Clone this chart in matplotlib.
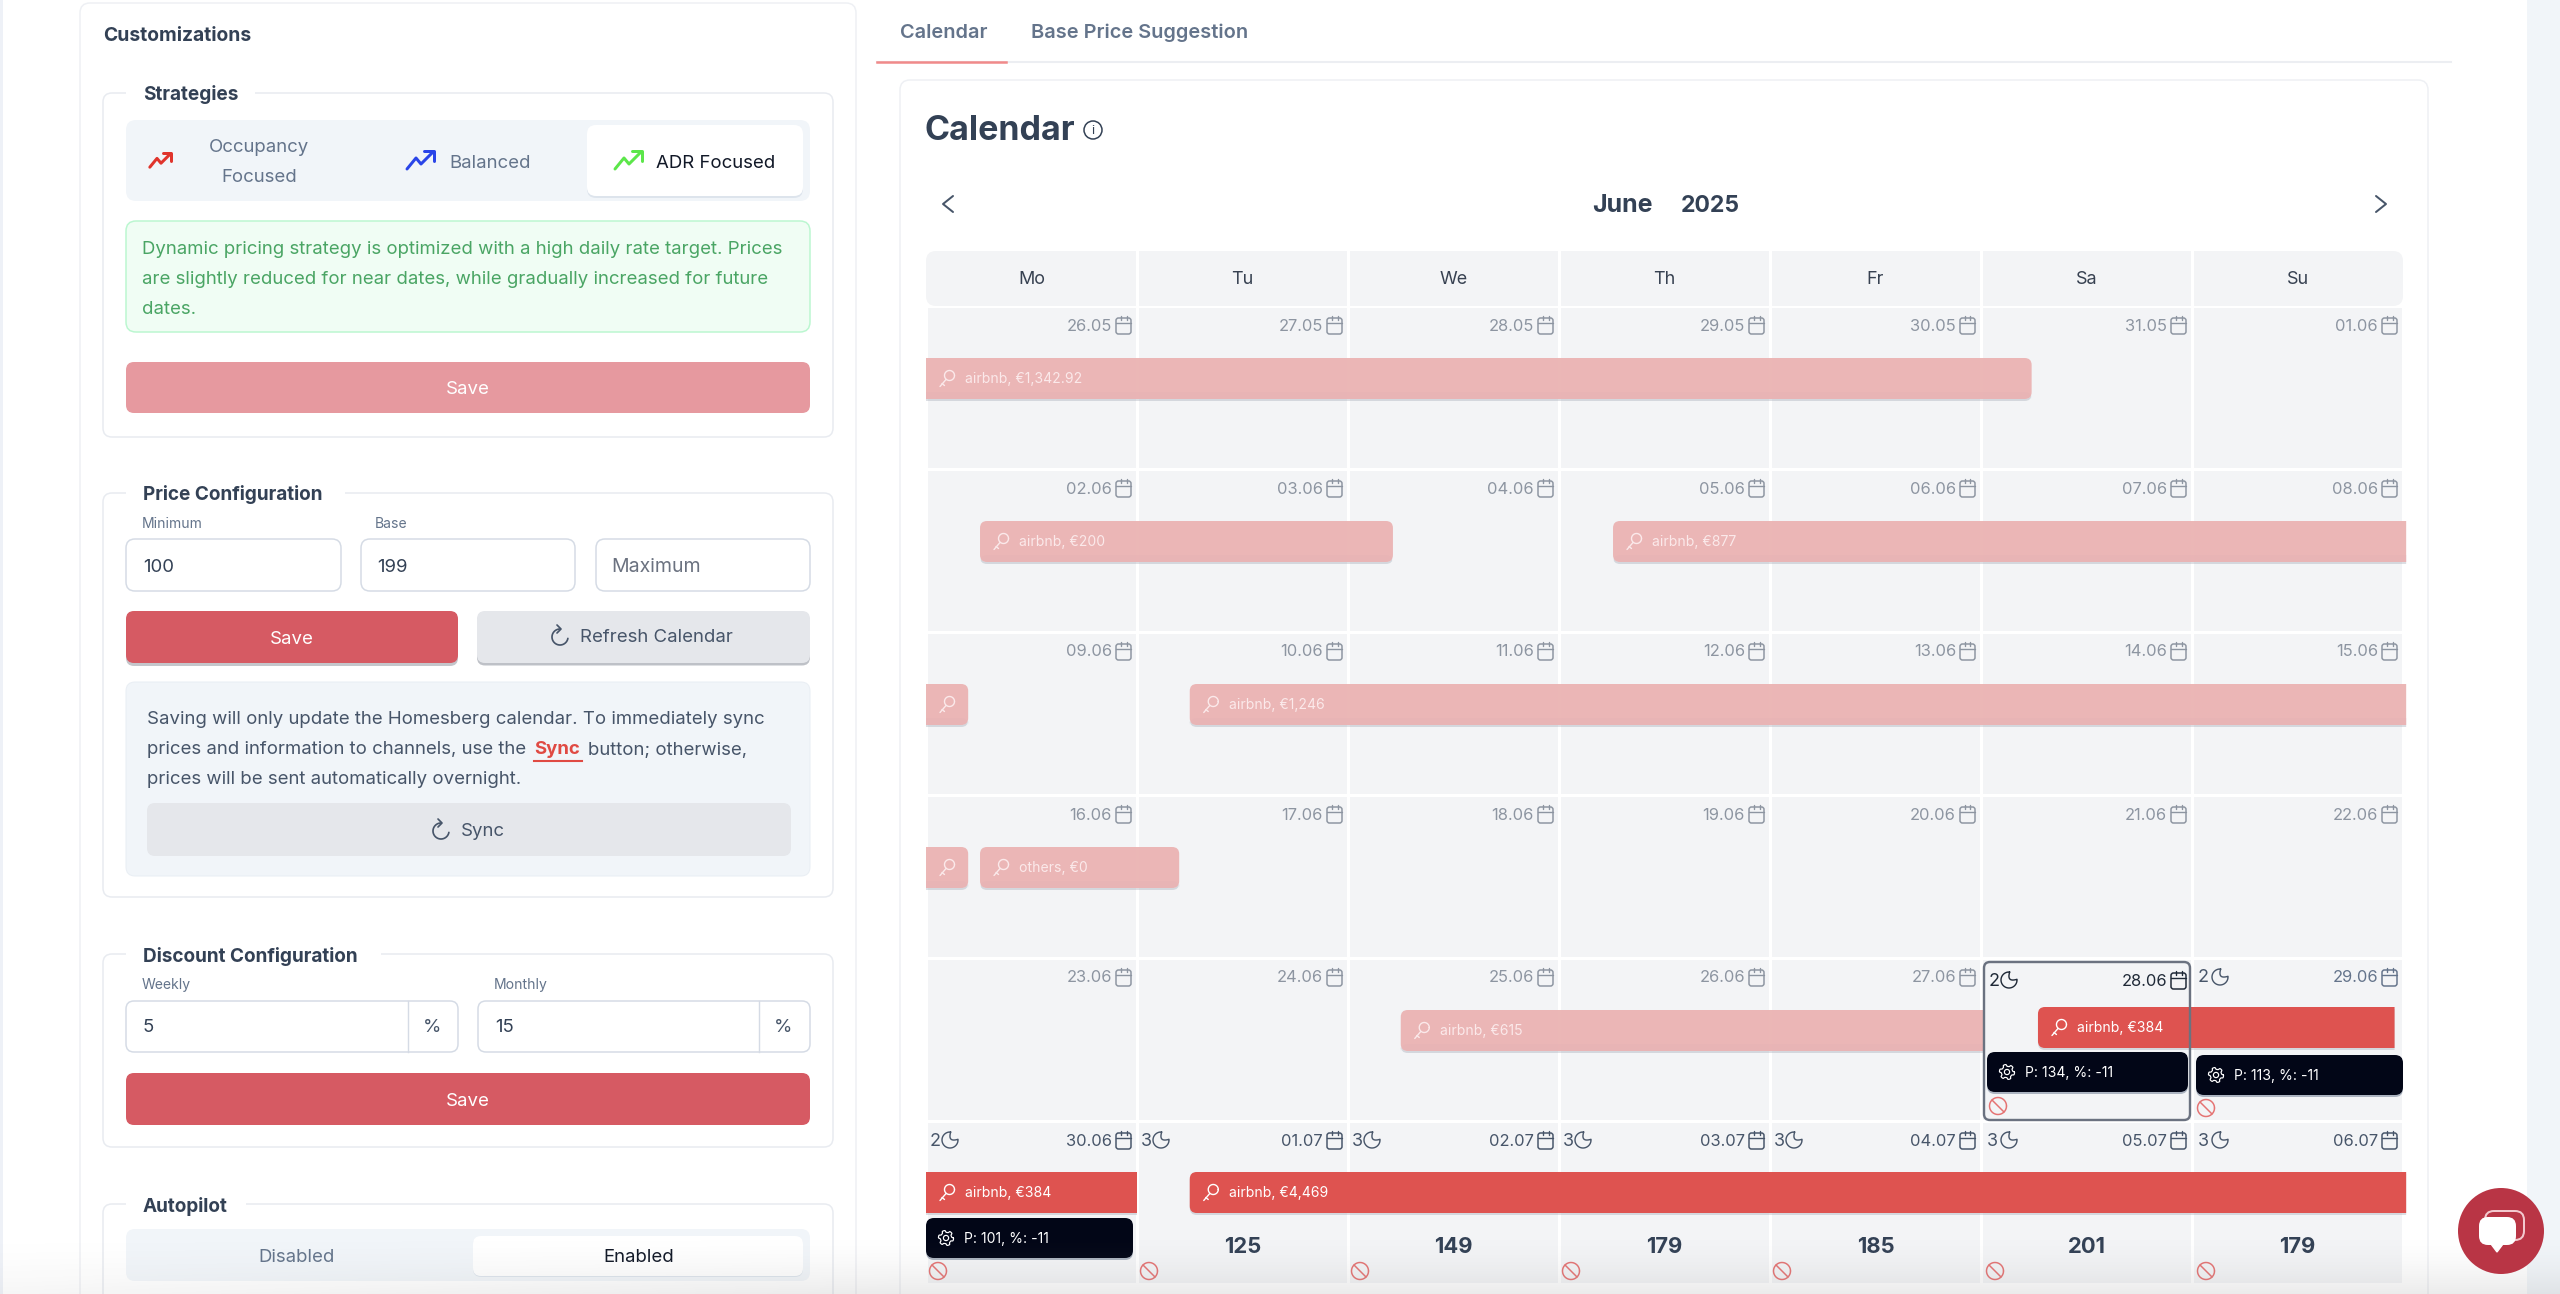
#!/usr/bin/env python3
import numpy as np
import matplotlib
matplotlib.use('Agg')
import matplotlib.pyplot as plt
from matplotlib.patches import PathPatch, Circle
from matplotlib.path import Path
from matplotlib.transforms import offset_copy

plt.rcParams['font.family'] = ['Inter', 'DejaVu Sans']

W, H = 2560, 1294

# ---- calendar data ----
weekdays = ['Mo', 'Tu', 'We', 'Th', 'Fr', 'Sa', 'Su']
dates = [
    ['26.05', '27.05', '28.05', '29.05', '30.05', '31.05', '01.06'],
    ['02.06', '03.06', '04.06', '05.06', '06.06', '07.06', '08.06'],
    ['09.06', '10.06', '11.06', '12.06', '13.06', '14.06', '15.06'],
    ['16.06', '17.06', '18.06', '19.06', '20.06', '21.06', '22.06'],
    ['23.06', '24.06', '25.06', '26.06', '27.06', '28.06', '29.06'],
    ['30.06', '01.07', '02.07', '03.07', '04.07', '05.07', '06.07'],
]
booking_row = [0, 1, 1, 2, 2, 3, 3, 4, 4, 5, 5]
booking_start = [0, 0.256, 3.256, 0, 1.25, 0, 0.256, 2.25, 5.27, 0, 1.25]
booking_end = [5.24, 2.213, 7.015, 0.2, 7.015, 0.2, 1.2, 5.01, 6.96, 1.0, 7.015]
booking_text = ['airbnb, €1,342.92', 'airbnb, €200', 'airbnb, €877', '', 'airbnb, €1,246',
                '', 'others, €0', 'airbnb, €615', 'airbnb, €384', 'airbnb, €384', 'airbnb, €4,469']
booking_current = [0, 0, 0, 0, 0, 0, 0, 0, 1, 1, 1]

tag_row = [4, 4, 5]
tag_col = [5, 6, 0]
tag_text = ['P: 134, %: -11', 'P: 113, %: -11', 'P: 101, %: -11']

price_col = [1, 2, 3, 4, 5, 6]
price_val = [125, 149, 179, 185, 201, 179]

night_row = [4, 4, 5, 5, 5, 5, 5, 5, 5]
night_col = [5, 6, 0, 1, 2, 3, 4, 5, 6]
night_val = [2, 2, 2, 3, 3, 3, 3, 3, 3]

selected_row, selected_col = 4, 5

# ---- colours ----
INK = '#334155'
SLATE = '#64748b'
LINE = '#e8ebf0'
RED = '#d65a63'
BOOK = '#de5350'
PANEL = '#f1f5f9'
CELL = '#f3f4f6'
BODY = 18.6


def fs(px):
    return px * 0.72


def box_path(x0, y0, x1, y1, rx, ry, rl=True, rr=True):
    lx, ly = (rx, ry) if rl else (0, 0)
    qx, qy = (rx, ry) if rr else (0, 0)
    v = [(x0 + lx, y0), (x1 - qx, y0), (x1, y0), (x1, y0 + qy), (x1, y1 - qy), (x1, y1),
         (x1 - qx, y1), (x0 + lx, y1), (x0, y1), (x0, y1 - ly), (x0, y0 + ly), (x0, y0),
         (x0 + lx, y0), (x0 + lx, y0)]
    c = [Path.MOVETO, Path.LINETO, Path.CURVE3, Path.CURVE3, Path.LINETO, Path.CURVE3, Path.CURVE3,
         Path.LINETO, Path.CURVE3, Path.CURVE3, Path.LINETO, Path.CURVE3, Path.CURVE3, Path.CLOSEPOLY]
    return Path(v, c)


def box(ax, x0, y0, x1, y1, r=10, fc='white', ec='none', lw=0, sx=1, sy=1, rl=True, rr=True,
        alpha=None, z=2, shadow=None):
    if shadow:
        dy, col, a = shadow
        # a see-through box only gets its shadow below the bottom edge
        ys = y1 - r / sy if alpha is not None else y0 + dy / sy
        ax.add_patch(PathPatch(box_path(x0, ys, x1, y1 + dy / sy, r / sx, r / sy, rl, rr),
                               fc=col, ec='none', alpha=a, zorder=z - 0.1, clip_on=False))
        if alpha is not None:
            ax.add_patch(PathPatch(box_path(x0, y0, x1, y1, r / sx, r / sy, rl, rr), fc=CELL,
                                   ec='none', alpha=0.9, zorder=z - 0.05, clip_on=False))
    ax.add_patch(PathPatch(box_path(x0, y0, x1, y1, r / sx, r / sy, rl, rr), fc=fc, ec=ec,
                           lw=lw * 0.72, alpha=alpha, zorder=z, clip_on=False))


def txt(ax, x, y, s, px, color=INK, weight='normal', ha='left', z=6, down=1.44):
    return ax.text(x, y, s, fontsize=fs(px), color=color, fontweight=weight, ha=ha, va='center',
                   zorder=z, clip_on=False,
                   transform=offset_copy(ax.transData, fig=fig, y=-down, units='points'))


def stroke(ax, pts, color, lw=2, sx=1, sy=1, cx=0, cy=0, z=6):
    p = np.array(pts, dtype=float)
    ax.plot(cx + p[:, 0] / sx, cy + p[:, 1] / sy, color=color, lw=lw * 0.72, zorder=z,
            solid_capstyle='round', solid_joinstyle='round', clip_on=False)


def arc_pts(r, a0, a1, n=40):
    t = np.radians(np.linspace(a0, a1, n))
    return np.c_[r * np.cos(t), r * np.sin(t)]


def trend_icon(ax, cx, cy, s, color):
    pts = np.array([(-14, 9), (-5, -2), (0, 4), (12, -8)]) * s
    head = np.array([(3, -9), (13, -9), (13, 1)]) * s
    stroke(ax, pts, color, 3, cx=cx, cy=cy)
    stroke(ax, head, color, 3, cx=cx, cy=cy)


def cal_icon(ax, cx, cy, color, sx=1, sy=1):
    box(ax, cx - 7.5 / sx, cy - 7 / sy, cx + 7.5 / sx, cy + 9 / sy, r=2.5, fc='none', ec=color, lw=1.5, sx=sx, sy=sy, z=6)
    stroke(ax, [(-7.5, -2), (7.5, -2)], color, 1.4, sx, sy, cx, cy)
    stroke(ax, [(-3, -9), (-3, -5)], color, 1.4, sx, sy, cx, cy)
    stroke(ax, [(3, -9), (3, -5)], color, 1.4, sx, sy, cx, cy)


def key_icon(ax, cx, cy, color, sx=1, sy=1):
    stroke(ax, arc_pts(5, 0, 360) + (2.5, -3), color, 1.4, sx, sy, cx, cy)
    stroke(ax, [(-1, 1), (-7, 8)], color, 1.4, sx, sy, cx, cy)
    stroke(ax, [(-5, 5), (-2.5, 7)], color, 1.4, sx, sy, cx, cy)


def gear_icon(ax, cx, cy, color, sx=1, sy=1):
    ang = np.radians(np.arange(0, 361, 2.5))
    r = 6.6 + 1.0 * np.tanh(3 * np.sin(6 * ang + 0.4))
    stroke(ax, np.c_[r * np.cos(ang), r * np.sin(ang)], color, 1.2, sx, sy, cx, cy)
    stroke(ax, arc_pts(2.6, 0, 360), color, 1.2, sx, sy, cx, cy)


def moon_icon(ax, cx, cy, color, sx=1, sy=1):
    outer = arc_pts(8, -85, -365)
    t = np.linspace(0, 1, 20)[:, None]
    p0, p1, p2 = outer[-1], np.array([-2.5, 2.5]), outer[0]
    inner = (1 - t) ** 2 * p0 + 2 * t * (1 - t) * p1 + t ** 2 * p2
    stroke(ax, np.r_[outer, inner], color, 1.4, sx, sy, cx, cy)


def ban_icon(ax, cx, cy, color, sx=1, sy=1):
    stroke(ax, arc_pts(8.5, 0, 360), color, 1.5, sx, sy, cx, cy)
    stroke(ax, [(-6, -6), (6, 6)], color, 1.5, sx, sy, cx, cy)


def refresh_icon(ax, cx, cy, color):
    stroke(ax, arc_pts(8, 10, 270), color, 1.7, cx=cx, cy=cy)
    stroke(ax, [(-3, -12), (1, -8), (-3, -4)], color, 1.7, cx=cx, cy=cy)


def fieldset(ax, x0, y0, x1, y1, title, gap_end):
    box(ax, x0, y0, x1, y1, r=9, fc='white', ec=LINE, lw=1.5, z=1)
    ax.plot([126, gap_end], [y0, y0], color='white', lw=3, zorder=1.5, solid_capstyle='butt')
    txt(ax, 143, y0, title, 19, INK, 'bold')


fig = plt.figure(figsize=(W / 100, H / 100), dpi=100, facecolor='white')
ax = fig.add_axes([0, 0, 1, 1])
ax.set_xlim(0, W)
ax.set_ylim(H, 0)
ax.axis('off')

# page and cards
ax.fill_between([2527, W], 0, H, color='#f1f5f9', lw=0, zorder=0)
ax.fill_between([0, 3], 0, H, color='#eef1f7', lw=0, zorder=0)
box(ax, 80, 3, 856, 1340, r=10, fc='white', ec='#eef0f4', lw=1.5, z=0.5)
box(ax, 900, 80, 2428, 1340, r=10, fc='white', ec='#eef0f4', lw=1.5, z=0.5)
txt(ax, 103, 34, 'Customizations', 19.3, INK, 'bold')

# strategies
fieldset(ax, 103, 93, 833, 437, 'Strategies', 255)
box(ax, 126, 120, 810, 201, r=10, fc=PANEL)
box(ax, 587, 125, 803, 196, r=9, fc='white', shadow=(2, '#cbd5e1', 0.5), z=3)
trend_icon(ax, 161, 160, 0.8, '#e0342c')
trend_icon(ax, 421, 160, 1.0, '#2a45e8')
trend_icon(ax, 629, 160, 1.0, '#5ce64a')
txt(ax, 259, 146, 'Occupancy', BODY, SLATE, ha='center')
txt(ax, 259, 176, 'Focused', BODY, SLATE, ha='center')
txt(ax, 449, 161, 'Balanced', BODY, SLATE)
txt(ax, 656, 161, 'ADR Focused', BODY, '#111827')
box(ax, 126, 221, 810, 332, r=10, fc='#f0fdf4', ec='#bbf7d0', lw=1.5)
GREEN = '#4aa564'
txt(ax, 142, 247, 'Dynamic pricing strategy is optimized with a high daily rate target. Prices', BODY, GREEN)
txt(ax, 142, 277, 'are slightly reduced for near dates, while gradually increased for future', BODY, GREEN)
txt(ax, 142, 307, 'dates.', BODY, GREEN)
box(ax, 126, 362, 810, 413, r=8, fc='#e6999f')
txt(ax, 468, 388, 'Save', BODY, 'white', ha='center')

# price configuration
fieldset(ax, 103, 493, 833, 897, 'Price Configuration', 345)
txt(ax, 142, 522, 'Minimum', 14, SLATE)
txt(ax, 375, 522, 'Base', 14, SLATE)
for x0, x1 in [(126, 341), (361, 575), (596, 810)]:
    box(ax, x0, 539, x1, 591, r=9, fc='white', ec='#d5dbe5', lw=1.5)
txt(ax, 143, 565, '100', BODY, INK)
txt(ax, 377, 565, '199', BODY, INK)
txt(ax, 611, 565, 'Maximum', 19.5, '#6b7280')
box(ax, 126, 611, 458, 663, r=8, fc=RED, shadow=(3, '#8a8f99', 0.5))
txt(ax, 292, 637, 'Save', BODY, 'white', ha='center')
box(ax, 477, 611, 810, 663, r=8, fc='#e5e7eb', shadow=(2.5, '#8a8f99', 0.55))
refresh_icon(ax, 560, 637, '#475569')
txt(ax, 580, 636, 'Refresh Calendar', BODY, '#475569')
box(ax, 126, 682, 810, 876, r=9, fc=PANEL, ec='#e9eef4', lw=1)
txt(ax, 147, 718, 'Saving will only update the Homesberg calendar. To immediately sync', BODY, '#475569')
txt(ax, 147, 748, 'prices and information to channels, use the', BODY, '#475569')
txt(ax, 534, 748, 'Sync', BODY, '#e04a43', 'bold')
ax.plot([534, 582], [761, 761], color='#e04a43', lw=1.5, zorder=6)
txt(ax, 588, 748, 'button; otherwise,', BODY, '#475569')
txt(ax, 147, 778, 'prices will be sent automatically overnight.', BODY, '#475569')
box(ax, 147, 803, 791, 856, r=8, fc='#e5e7eb', shadow=(2.5, '#8a8f99', 0.55))
refresh_icon(ax, 441, 831, '#475569')
txt(ax, 461, 829, 'Sync', BODY, '#475569')

# discount configuration
fieldset(ax, 103, 954, 833, 1147, 'Discount Configuration', 381)
txt(ax, 142, 983, 'Weekly', 14, SLATE)
txt(ax, 494, 983, 'Monthly', 14, SLATE)
for x0, x1, xd in [(126, 458, 408), (478, 810, 759)]:
    box(ax, x0, 1001, x1, 1052, r=8, fc='white', ec='#d5dbe5', lw=1.5)
    ax.plot([xd, xd], [1001, 1052], color='#d5dbe5', lw=1, zorder=3)
    txt(ax, xd + 24, 1026, '%', BODY, '#475569', ha='center')
txt(ax, 143, 1026, '5', BODY, INK)
txt(ax, 495, 1026, '15', BODY, INK)
box(ax, 126, 1073, 810, 1125, r=8, fc=RED)
txt(ax, 468, 1099, 'Save', BODY, 'white', ha='center')

# autopilot
fieldset(ax, 103, 1204, 833, 1340, 'Autopilot', 246)
box(ax, 126, 1229, 810, 1281, r=9, fc=PANEL)
box(ax, 473, 1236, 803, 1276, r=8, fc='white', shadow=(1, '#cbd5e1', 0.5), z=3)
txt(ax, 297, 1256, 'Disabled', BODY, SLATE, ha='center')
txt(ax, 639, 1256, 'Enabled', BODY, '#111827', ha='center')

# tabs and heading
txt(ax, 900, 31, 'Calendar', 20, SLATE, 'semibold')
txt(ax, 1031, 31, 'Base Price Suggestion', 20, SLATE, 'semibold')
ax.plot([877, 2451], [62, 62], color='#eceef2', lw=1.5, zorder=1)
ax.plot([877, 1006], [62, 62], color='#f08a8a', lw=1.8, zorder=2)
txt(ax, 924, 129, 'Calendar', 34, INK, 'bold')
ax.add_patch(Circle((1093, 130), 9, fc='none', ec=INK, lw=1.1, zorder=6))
txt(ax, 1093, 129, 'i', 13, INK, ha='center')
txt(ax, 1592, 204, 'June', 25, INK, 'bold')
txt(ax, 1681, 204, '2025', 23, INK, 'bold')
stroke(ax, [(5, -8), (-5, 0), (5, 8)], '#475569', 2, cx=948, cy=204)
stroke(ax, [(-5, -8), (5, 0), (-5, 8)], '#475569', 2, cx=2381, cy=204)

# weekday header
col_w = (2403 - 926) / 7
box(ax, 926, 251, 2403, 306, r=10, fc=CELL, z=1, rr=True)
for i, name in enumerate(weekdays):
    txt(ax, 926 + col_w * (i + 0.5), 278, name, 18, '#374151', ha='center')
for i in range(1, 7):
    ax.plot([926 + col_w * i] * 2, [251, 306], color='white', lw=2.2, zorder=2)

# calendar grid, one unit per day and per week
cal = fig.add_axes([926 / W, 1 - 1286 / H, (2403 - 926) / W, 978 / H], zorder=2)
cal.set_xlim(0, 7)
cal.set_ylim(6, 0)
cal.axis('off')
sx, sy = col_w, 163.0

for r in range(6):
    cal.bar(np.arange(7) + 0.5, 160 / sy, width=1 - 3 / sx, bottom=r, color=CELL, lw=0, zorder=1)

for r, week in enumerate(dates):
    for c, label in enumerate(week):
        if r == 5:
            colr = '#475569'
        elif (r, c) == (selected_row, selected_col):
            colr = '#1f2937'
        elif r == 4 and c == 6:
            colr = '#64748b'
        else:
            colr = '#8d95a1'
        dy = 19 if (r, c) == (selected_row, selected_col) else 16
        txt(cal, c + 1 - 25 / sx, r + dy / sy, label, 16.5, colr, ha='right')
        cal_icon(cal, c + 1 - 13.5 / sx, r + (dy + 1) / sy, colr, sx, sy)

for r, a, b, label, cur in zip(booking_row, booking_start, booking_end, booking_text, booking_current):
    off = 47 if (r == 4 and cur) else 49 if cur else 50
    y0, y1 = r + off / sy, r + (off + 41) / sy
    box(cal, a, y0, b, y1, r=7, fc=BOOK, alpha=None if cur else 0.38, sx=sx, sy=sy,
        rl=a > 0, rr=b < 6.95 and not (r == 5 and a == 0) and not (r == 4 and b > 5),
        shadow=(2, '#9ca3af', 0.35), z=3)
    key_col = 'white' if cur else '#fbe9ea'
    key_icon(cal, a + 21 / sx, (y0 + y1) / 2, key_col, sx, sy)
    txt(cal, a + 39 / sx, (y0 + y1) / 2, label, 14, key_col, down=0.7)

tag_left = {5: 6, 6: 4, 0: 0}
tag_right = {5: 207, 6: 211, 0: 207}
for r, c, label in zip(tag_row, tag_col, tag_text):
    off = 92 if (r, c) == (selected_row, selected_col) else 95
    x0, x1 = c + tag_left[c] / sx, c + tag_right[c] / sx
    y0, y1 = r + off / sy, r + (off + 40) / sy
    box(cal, x0, y0, x1, y1, r=8, fc='#020617', sx=sx, sy=sy, shadow=(2, '#64748b', 0.5), z=4)
    gear_icon(cal, x0 + 20 / sx, (y0 + y1) / 2, 'white', sx, sy)
    txt(cal, x0 + 38 / sx, (y0 + y1) / 2, label, 14, 'white', down=0.7)

for c, v in zip(price_col, price_val):
    txt(cal, c + 0.5, 5 + 122 / sy, str(v), 22, INK, 'bold', ha='center')

for r, c, v in zip(night_row, night_col, night_val):
    sel = (r, c) == (selected_row, selected_col)
    colr = '#1f2937' if sel else '#475569'
    dy = 19 if sel else 16
    late = 2 if c >= 5 else 0
    txt(cal, c + (4 + late + (2 if sel else 0)) / sx, r + dy / sy, str(v), 18, colr)
    moon_icon(cal, c + (24 + 2 * late) / sx, r + (dy + 1) / sy, colr, sx, sy)
    ban_y = 146 if sel else 148
    ban_icon(cal, c + (12 + late + (3 if sel else 0)) / sx, r + ban_y / sy, '#e57373', sx, sy)

box(cal, selected_col + 3 / sx, selected_row + 2 / sy, selected_col + 1 - 2 / sx, selected_row + 160 / sy,
    r=6, fc='none', ec='#6b7280', lw=2.4, sx=sx, sy=sy, z=5)

# overlay: bottom fade and chat button
top = fig.add_axes([0, 0, 1, 1], zorder=3)
top.set_xlim(0, W)
top.set_ylim(H, 0)
top.axis('off')
fade = np.zeros((64, 64, 4))
fade[..., :3] = 0.55
ramp = np.clip(0.45 + np.linspace(0, 1.6, 64), 0, 1)
fade[..., 3] = (np.linspace(0, 1, 64)[:, None] ** 1.6) * 0.17 * ramp[None, :]
top.imshow(fade, extent=(0, W, H, 1234), aspect='auto', zorder=1, interpolation='bilinear')
top.set_xlim(0, W)
top.set_ylim(H, 0)
top.add_patch(Circle((2501, 1231), 43, fc='#b93545', ec='none', zorder=2))
box(top, 2485, 1211, 2524, 1240, r=9, fc='none', ec='#f3c9ce', lw=2, z=3)
box(top, 2479, 1217, 2516, 1245, r=9, fc='white', z=4)
top.fill([2491, 2503, 2497], [1244, 1244, 1252], color='white', zorder=4)

fig.savefig('out.png', dpi=100, facecolor='white')
